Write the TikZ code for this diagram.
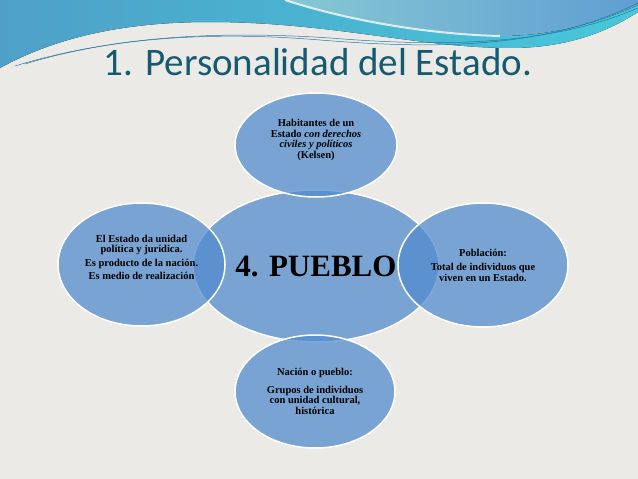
\documentclass[tikz,border=0pt]{standalone}
\usepackage{fontspec}
\newfontfamily\titlefont{Carlito}
\newfontfamily\bubblefont{Liberation Serif}
\usetikzlibrary{shapes.geometric}

\definecolor{paper}{RGB}{235,234,231}
\definecolor{bubblefill}{RGB}{82,140,205}
\definecolor{titleteal}{RGB}{22,90,112}
\definecolor{waveteal}{RGB}{78,160,200}
\definecolor{wavecyan}{RGB}{70,200,218}
\definecolor{waveaqua}{RGB}{135,200,212}
\definecolor{waveblue}{RGB}{95,158,210}
\definecolor{waveline}{RGB}{40,120,160}

\begin{document}
\begin{tikzpicture}[
        x=1pt,
        y=-1pt,
        bubble/.style={
            ellipse,
            draw=white,
            line width=1.5pt,
            fill=bubblefill,
            fill opacity=0.75,
            text opacity=1,
            inner sep=0pt,
            align=center,
            font=\bubblefont\bfseries\fontsize{10.5}{10.5}\selectfont,
        },
        hub/.style={
            bubble,
            font=\bubblefont\bfseries\fontsize{31}{36}\selectfont,
        },
        heading/.style={
            font=\titlefont\fontsize{39}{44}\selectfont,
            text=titleteal,
        },
        wave-thin/.style={
            draw=waveline,
            line width=0.5pt,
        },
    ]

    % Page.
    \fill[paper] (0,0) rectangle (638,479);
    \useasboundingbox (0,0) rectangle (638,479);

    % Waves at the top.
    \fill[left color=waveteal, right color=wavecyan]
        (0,0) -- (638,0) -- (638,12)
        .. controls (610,30) and (570,48) .. (510,48)
        .. controls (420,48) and (330,22) .. (210,22)
        .. controls (130,22) and (60,35) .. (0,68) -- cycle;
    \fill[left color=waveaqua, right color=waveblue]
        (285,0) .. controls (340,18) and (420,34) .. (500,36)
        .. controls (560,36) and (610,18) .. (638,5) -- (638,0) -- cycle;
    \draw[white, line width=2pt, opacity=0.8]
        (285,0) .. controls (340,18) and (420,34) .. (500,36);
    \draw[wave-thin] (15,66) .. controls (100,40) and (200,30) .. (320,40)
        .. controls (420,48) and (540,52) .. (638,3);
    \draw[wave-thin] (25,64) .. controls (110,38) and (210,30) .. (330,38)
        .. controls (430,46) and (545,48) .. (638,8);

    % Title.
    \node[heading] (title) at (318,62) {1. Personalidad del Estado.};

    % Centre.
    \node[hub, minimum width=246, minimum height=152] (pueblo) at (316,266) {4. PUEBLO};

    % Satellites.
    \node[bubble, minimum width=162, minimum height=104] (habitantes) at (316,145)
        {Habitantes de un\\Estado \textit{con derechos}\\\textit{civiles y políticos}\\(Kelsen)\\[2pt]};
    \node[bubble, minimum width=167, minimum height=123] (estado) at (141.5,264.5)
        {El Estado da unidad\\política y jurídica.\\[3pt]Es producto de la nación.\\[3pt]Es medio de realización\\[4pt]};
    \node[bubble, minimum width=170, minimum height=124] (poblacion) at (483,265)
        {Población:\\[4pt]Total de individuos que\\viven en un Estado.};
    \node[bubble, minimum width=160, minimum height=113] (nacion) at (315,391.5)
        {Nación o pueblo:\\[7pt]Grupos de individuos\\con unidad cultural,\\histórica};
\end{tikzpicture}
\end{document}
